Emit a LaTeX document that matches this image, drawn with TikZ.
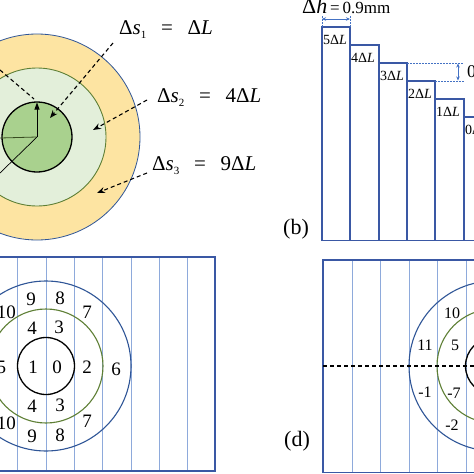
\documentclass[tikz,border=0pt]{standalone}
\usepackage{fontspec}
\setmainfont{Liberation Serif}
\usetikzlibrary{arrows.meta}
\definecolor{barblue}{HTML}{3A58A4}
\definecolor{gridblue}{HTML}{8EAADB}
\definecolor{ringblue}{HTML}{2F5597}
\definecolor{ringgreen}{HTML}{5E7F35}
\definecolor{yel}{HTML}{FDE4A2}
\definecolor{lgreen}{HTML}{E3EFDA}
\definecolor{mgreen}{HTML}{A9D18E}
\definecolor{dimblue}{HTML}{4472C4}
\newcommand{\gapq}{\hspace{0.7em}}
\tikzset{
  bigtxt/.style={font=\fontsize{21}{21}\selectfont, inner sep=0pt},
  numc/.style={font=\fontsize{19}{19}\selectfont, inner sep=0pt},
  numd/.style={font=\fontsize{16}{16}\selectfont, inner sep=0pt},
  barlbl/.style={font=\fontsize{14}{14}\selectfont, inner sep=0pt, anchor=base west},
  panellbl/.style={font=\fontsize{22}{22}\selectfont, inner sep=0pt},
  dasharrow/.style={draw=black, line width=1.1pt, dash pattern=on 4pt off 3pt, -{Stealth[open,length=8pt,width=6pt]}},
  barline/.style={draw=barblue, line width=1.5pt},
  gridline/.style={draw=gridblue, line width=0.9pt},
  dimline/.style={draw=dimblue, line width=0.9pt, {Stealth[length=4pt,width=3.5pt]}-{Stealth[length=4pt,width=3.5pt]}},
  dotline/.style={draw=dimblue, line width=0.8pt, dash pattern=on 1.5pt off 1.5pt},
}
\begin{document}
\begin{tikzpicture}[x=1pt,y=-1pt]
\useasboundingbox (0,0) rectangle (474,474);
\fill[white] (0,0) rectangle (474,474);

% ---------------- (a) ----------------
\coordinate (ac) at (37,137);
\filldraw[fill=yel, draw=ringblue, line width=0.8pt] (ac) circle[radius=103pt];
\filldraw[fill=lgreen, draw=ringgreen, line width=0.9pt] (ac) circle[radius=69pt];
\filldraw[fill=mgreen, draw=black, line width=1.3pt] (ac) circle[radius=35pt];
\coordinate (atop) at (37,102.5);
\coordinate (aleft) at (0,138);
\coordinate (adiag) at (0,173);
\draw[ringgreen!60!black, line width=0.8pt] (ac) -- (aleft);
\draw[black, line width=0.7pt] (ac) -- (adiag);
\draw[black, line width=0.9pt, -{Triangle[length=7pt,width=5pt]}] (ac) -- (atop);
\coordinate (adl0) at (0,70);
\coordinate (adl1) at (34,99);
\draw[black, line width=1.1pt, dash pattern=on 4pt off 3pt] (adl0) -- (adl1);

\node[bigtxt, anchor=base west] (ls1) at (119,34) {Δ\textit{s}\raisebox{-4pt}{\fontsize{11}{11}\selectfont 1}\gapq=\gapq Δ\textit{L}};
\node[bigtxt, anchor=base west] (ls2) at (157,102) {Δ\textit{s}\raisebox{-4pt}{\fontsize{11}{11}\selectfont 2}\gapq=\gapq 4Δ\textit{L}};
\node[bigtxt, anchor=base west] (ls3) at (152,170) {Δ\textit{s}\raisebox{-4pt}{\fontsize{11}{11}\selectfont 3}\gapq=\gapq 9Δ\textit{L}};
\coordinate (a1s) at (113,43);  \coordinate (a1e) at (50,118);
\coordinate (a2s) at (147,100); \coordinate (a2e) at (93,130);
\coordinate (a3s) at (147,173); \coordinate (a3e) at (97,193);
\draw[dasharrow] (a1s) -- (a1e);
\draw[dasharrow] (a2s) -- (a2e);
\draw[dasharrow] (a3s) -- (a3e);

% ---------------- (b) ----------------
\foreach \xl/\xr/\t/\lab in {322/350/27/5,350/379/45/4,379/407/63/3,407/435/81/2,435/464/99/1,464/492/117/0}{
  \draw[barline] (\xl,240.5) rectangle (\xr,\t);
  \node[barlbl] (bl\lab) at ({\xl+1},{\t+17.5}) {\lab Δ\textit{L}};
}
\draw[barline] (322,240.5) -- (480,240.5);
% top dimension
\coordinate (dh1) at (322,19);
\coordinate (dh2) at (350,19);
\draw[dotline] (322,16) -- (322,27);
\draw[dotline] (350,16) -- (350,27);
\draw[dimline] (dh1) -- (dh2);
\node[inner sep=0pt, anchor=base west] (dhl) at (302,13) {{\fontsize{22}{22}\selectfont Δ\textit{h}}{\fontsize{17}{17}\selectfont\,=\,0.9mm}};
% right dimension
\draw[dotline] (407,63) -- (464,63);
\draw[dotline] (435,81) -- (464,81);
\coordinate (dv1) at (458,63.5);
\coordinate (dv2) at (458,80.5);
\draw[dimline] (dv1) -- (dv2);
\node[inner sep=0pt, anchor=west, font=\fontsize{18}{18}\selectfont] (dvl) at (467,72) {0.1mm};
\node[panellbl] (pb) at (296,229) {(b)};

% ---------------- (c) ----------------
\foreach \x in {17,46,74,102,131,159,187}{
  \draw[gridline] (\x,257) -- (\x,471);
}
\draw[barline] (-40,257) rectangle (215,471);
\coordinate (cc) at (46,366);
\draw[ringblue, line width=1.1pt] (cc) circle[radius=85pt];
\draw[ringgreen, line width=1.1pt] (cc) circle[radius=57pt];
\draw[black, line width=1.3pt] (cc) circle[radius=28.5pt];
\node[numc] (c9a) at (31,299) {9};
\node[numc] (c8a) at (60,298) {8};
\node[numc] (c7a) at (87,312) {7};
\node[numc] (c4a) at (32,328) {4};
\node[numc] (c3a) at (59,327) {3};
\node[numc] (c1) at (33,367) {1};
\node[numc] (c0) at (57,367) {0};
\node[numc] (c2) at (87,367) {2};
\node[numc] (c6) at (116,369) {6};
\node[numc] (c5) at (1.5,367) {5};
\node[numc] (c4b) at (32,406) {4};
\node[numc] (c3b) at (60,405) {3};
\node[numc] (c7b) at (87,421) {7};
\node[numc, anchor=east] (c10a) at (16,312) {10};
\node[numc, anchor=east] (c10b) at (16,423) {10};
\node[numc] (c9b) at (32,436) {9};
\node[numc] (c8b) at (60,435) {8};

% ---------------- (d) ----------------
\foreach \x in {352,380,409,437,466,494}{
  \draw[gridline] (\x,260) -- (\x,473);
}
\draw[barline] (323,260) rectangle (540,472.5);
\coordinate (dc) at (494,366);
\draw[ringblue, line width=1.1pt] (dc) circle[radius=85pt];
\draw[ringgreen, line width=1.1pt] (dc) circle[radius=57pt];
\draw[black, line width=1.3pt] (dc) circle[radius=28.5pt];
\coordinate (dl0) at (323,366);
\coordinate (dl1) at (480,366);
\draw[black, line width=1.1pt, dash pattern=on 4pt off 3pt] (dl0) -- (dl1);
\node[numd] (d10) at (452,313) {10};
\node[numd] (d11) at (425,345) {11};
\node[numd] (d5) at (455,345) {5};
\node[numd] (dm1) at (425,392) {-1};
\node[numd] (dm7) at (454,393) {-7};
\node[numd] (dm2) at (452,425) {-2};
\node[panellbl] (pd) at (297,441) {(d)};
\end{tikzpicture}
\end{document}
